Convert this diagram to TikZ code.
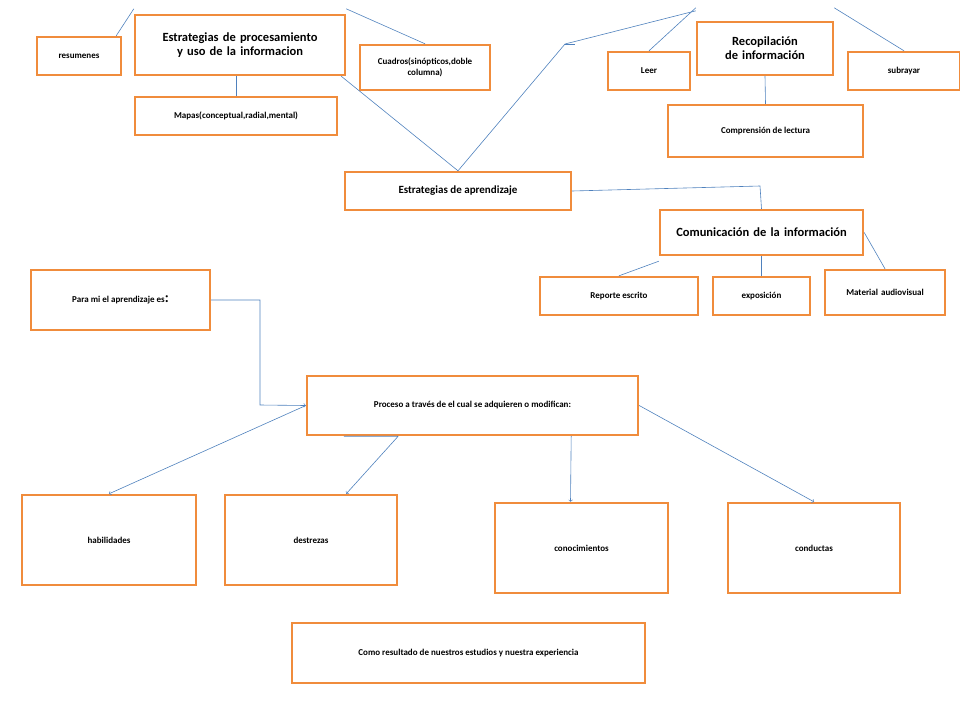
\documentclass[tikz,border=0pt]{standalone}
\usepackage{fontspec}
\setmainfont{Carlito}
\definecolor{boxorange}{RGB}{240,140,60}
\definecolor{linkblue}{RGB}{79,129,189}
\tikzset{
  box/.style={draw=boxorange, line width=2.4pt, fill=white, align=center, inner sep=2pt,
    font=\fontsize{9}{11}\selectfont\bfseries},
  big/.style={font=\fontsize{12.5}{14}\selectfont\bfseries},
  link/.style={draw=linkblue, line width=0.6pt},
  arr/.style={link, ->}
}
\begin{document}
\begin{tikzpicture}[x=1pt,y=-1pt]
\useasboundingbox (0,0) rectangle (960,720);
% lines first
\coordinate (tick) at (565,44);
\coordinate (tickend) at (575,44);
\coordinate (bendA) at (760,186);
\coordinate (bendB) at (260,300);
\coordinate (bendC) at (260,405);
% boxes
\node[box,big,minimum width=210pt,minimum height=60pt,text width=200pt] (proc) at (240,45) {Estrategias de procesamiento y uso de la informacion};
\node[box,minimum width=84pt,minimum height=38pt] (res) at (79,56) {resumenes};
\node[box,minimum width=130pt,minimum height=45pt,text width=120pt] (cuad) at (425,67.5) {Cuadros(sinópticos,doble columna)};
\node[box,minimum width=202pt,minimum height=38pt] (mapas) at (236,116) {Mapas(conceptual,radial,mental)};
\node[box,big,minimum width=136pt,minimum height=53pt,text width=130pt] (recop) at (765,48.5) {Recopilación de información};
\node[box,minimum width=82pt,minimum height=38pt] (leer) at (649,71) {Leer};
\node[box,minimum width=112pt,minimum height=38pt] (subr) at (904,71) {subrayar};
\node[box,minimum width=195pt,minimum height=52pt] (compr) at (765.5,131) {Comprensión de lectura};
\node[box,font=\fontsize{11}{13}\selectfont\bfseries,minimum width=226pt,minimum height=38pt] (apr) at (458,191) {Estrategias de aprendizaje};
\node[box,big,minimum width=203pt,minimum height=45pt,text width=190pt] (comun) at (761.5,232.5) {Comunicación de la información};
\node[box,minimum width=158pt,minimum height=38pt] (rep) at (619,296) {Reporte escrito};
\node[box,minimum width=97pt,minimum height=38pt] (expo) at (761.5,296) {exposición};
\node[box,minimum width=120pt,minimum height=45pt,text width=110pt] (mat) at (885,292.5) {Material audiovisual};
\node[box,minimum width=179pt,minimum height=60pt] (para) at (120.5,300) {Para mi el aprendizaje es{\Large:}};
\node[box,minimum width=331pt,minimum height=59pt] (proceso) at (472.5,405.5) {Proceso a través de el cual se adquieren o modifican:};
\node[box,minimum width=174pt,minimum height=90pt] (hab) at (109,540) {habilidades};
\node[box,minimum width=172pt,minimum height=90pt] (des) at (311,540) {destrezas};
\node[box,minimum width=173pt,minimum height=90pt] (con) at (581.5,548) {conocimientos};
\node[box,minimum width=172pt,minimum height=90pt] (cond) at (814,548) {conductas};
\node[box,minimum width=353pt,minimum height=60pt] (resul) at (468.5,653) {Como resultado de nuestros estudios y nuestra experiencia};
% connectors
\draw[link] ([xshift=-6pt]res.north east) -- ([yshift=5pt]proc.north west);
\draw[link] ([yshift=5pt]proc.north east) -- (cuad.north);
\draw[link] (proc.south -| mapas.north) -- (mapas.north);
\draw[link] ([xshift=-5pt]proc.south east) -- (apr.north);
\draw[link] (apr.north) -- (tick) -- ([yshift=10pt]recop.north west);
\draw[link] (tick) -- (tickend);
\draw[link] ([yshift=13pt]recop.north west) -- (leer.north);
\draw[link] ([yshift=13pt]recop.north east) -- (subr.north);
\draw[link] (recop.south) -- (compr.north);
\draw[link] (apr.east) -- (bendA) -- (comun.north);
\draw[link] ([yshift=-5pt]comun.south west) -- (rep.north);
\draw[link] (comun.south) -- (expo.north);
\draw[link] (comun.east) -- (mat.north);
\draw[arr] (para.east) -- (bendB) -- (bendC) -- (proceso.west);
\draw[arr] (proceso.west) -- (hab.north);
\draw[arr] ([xshift=38pt]proceso.south west) -- (proceso.south west -| des.north east) ++(0,0) -- ([xshift=-52pt]des.north east);
\draw[arr] ([xshift=-68pt]proceso.south east) -- ([xshift=-11pt]con.north);
\draw[arr] (proceso.east) -- (cond.north);
\end{tikzpicture}
\end{document}
